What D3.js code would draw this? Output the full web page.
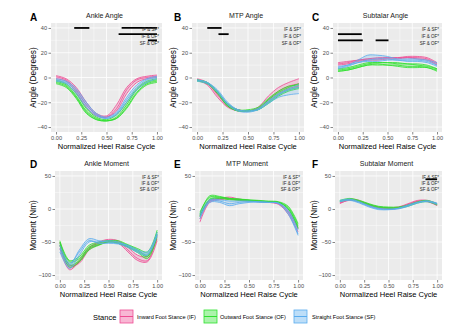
<!DOCTYPE html>
<html>
<head>
<meta charset="utf-8">
<script src="https://cdn.jsdelivr.net/npm/d3@7"></script>
<style>
html,body{margin:0;padding:0;background:#fff;}
svg{display:block;font-family:"Liberation Sans",Arial,sans-serif;}
</style>
</head>
<body>
<svg id="chart" width="474" height="330"></svg>
<script>
// ---------------- DATA ----------------
const xPoints = [0, 0.1, 0.2, 0.3, 0.4, 0.5, 0.6, 0.7, 0.8, 0.9, 1.0];
const stanceKeys = ["IF", "OF", "SF"];
const stanceNames = ["Inward Foot Stance (IF)", "Outward Foot Stance (OF)", "Straight Foot Stance (SF)"];
const panelLetters = ["A", "B", "C", "D", "E", "F"];
const panelTitles = ["Ankle Angle", "MTP Angle", "Subtalar Angle", "Ankle Moment", "MTP Moment", "Subtalar Moment"];
const yTitles = ["Angle (Degrees)", "Angle (Degrees)", "Angle (Degrees)", "Moment (Nm)", "Moment (Nm)", "Moment (Nm)"];
const xTickValues = [0, 0.25, 0.5, 0.75, 1];
const xTickLabels = ["0.00", "0.25", "0.50", "0.75", "1.00"];
const angleTicks = [-40, -20, 0, 20, 40];
const momentTicks = [-100, -50, 0, 50];
const sigLabels = ["IF & SF*", "IF & OF*", "SF & OF*"];

// Ankle angle
const ankleAngleIF = [
  [0.5, -2, -10, -22, -30, -32, -25, -10, -2, 0, 1],
  [1.5, -1, -8, -20, -29, -31, -22, -8, -1, 1, 2],
  [-1, -3, -12, -24, -31, -32, -27, -13, -4, -1, 0]
];
const ankleAngleOF = [
  [-3, -6, -15, -27, -33, -35, -32, -22, -10, -4, -2],
  [-4, -7, -16, -28, -34, -35, -33, -24, -12, -5, -3],
  [-2, -5, -13, -25, -32, -34, -30, -20, -9, -3, -1],
  [-5, -8, -17, -29, -34, -35, -33, -25, -13, -6, -4]
];
const ankleAngleSF = [
  [-2, -4, -11, -22, -30, -33, -29, -18, -8, -2, 0],
  [-1, -3, -9, -20, -29, -32, -28, -16, -6, -1, 1],
  [-3, -5, -13, -24, -31, -33, -30, -20, -10, -4, -1]
];
// MTP angle
const mtpAngleIF = [
  [-2, -5, -14, -23, -26, -27, -24, -15, -8, -4, -1],
  [-2, -6, -16, -24, -27, -27, -25, -18, -11, -7, -5],
  [-1, -4, -13, -22, -26, -27, -25, -19, -13, -9, -7]
];
const mtpAngleOF = [
  [-2, -4, -11, -22, -26, -27, -25, -18, -12, -8, -5],
  [-3, -5, -13, -23, -27, -27, -26, -20, -14, -10, -8],
  [-2, -4, -12, -21, -26, -26, -24, -17, -11, -7, -6],
  [-2, -5, -12, -23, -27, -27, -26, -21, -15, -11, -9]
];
const mtpAngleSF = [
  [-2, -4, -11, -21, -26, -27, -26, -20, -14, -10, -8],
  [-3, -5, -12, -22, -27, -28, -26, -21, -16, -14, -13],
  [-2, -4, -10, -20, -26, -27, -25, -19, -13, -9, -6]
];
// Subtalar angle
const subtalarAngleIF = [
  [11, 12, 14, 15, 15, 16, 16, 17, 17, 16, 12],
  [10, 11, 13, 14, 14, 15, 15, 16, 16, 15, 11],
  [12, 13, 14, 15, 16, 16, 16, 16, 15, 14, 10]
];
const subtalarAngleOF = [
  [6, 7, 9, 11, 12, 12, 12, 11, 11, 10, 7],
  [5, 6, 8, 10, 11, 10, 10, 9, 9, 8, 6],
  [7, 8, 10, 12, 12, 12, 11, 11, 10, 9, 7],
  [5, 6, 8, 10, 10, 10, 9, 8, 8, 8, 5]
];
const subtalarAngleSF = [
  [8, 10, 14, 18, 18, 17, 15, 15, 15, 14, 12],
  [7, 9, 12, 14, 15, 15, 14, 14, 14, 13, 10],
  [9, 10, 12, 13, 13, 14, 14, 13, 13, 12, 9]
];
// Ankle moment
const ankleMomentIF = [
  [-55, -88, -80, -60, -52, -48, -50, -62, -75, -78, -40],
  [-60, -92, -78, -58, -50, -46, -48, -58, -70, -72, -45],
  [-50, -85, -82, -62, -54, -50, -52, -65, -78, -80, -48]
];
const ankleMomentOF = [
  [-50, -80, -75, -58, -52, -48, -50, -55, -62, -70, -35],
  [-48, -78, -72, -55, -50, -48, -48, -54, -60, -65, -32],
  [-52, -85, -78, -60, -54, -50, -52, -57, -64, -72, -38],
  [-55, -88, -80, -62, -55, -50, -52, -58, -66, -75, -42]
];
const ankleMomentSF = [
  [-60, -85, -62, -45, -48, -50, -52, -55, -62, -65, -35],
  [-65, -90, -70, -50, -50, -48, -50, -56, -64, -68, -40],
  [-55, -82, -65, -48, -52, -52, -53, -58, -66, -70, -38]
];
// MTP moment
const mtpMomentIF = [
  [-15, 12, 15, 16, 14, 13, 12, 10, 8, -5, -30],
  [-20, 10, 14, 15, 13, 12, 11, 10, 7, -8, -35],
  [-10, 13, 16, 18, 15, 13, 12, 11, 9, -3, -28]
];
const mtpMomentOF = [
  [-5, 18, 18, 16, 15, 13, 12, 11, 10, 2, -25],
  [-10, 15, 17, 15, 14, 13, 12, 11, 10, 0, -28],
  [-8, 20, 19, 16, 15, 14, 13, 12, 11, 4, -22],
  [-12, 14, 16, 14, 13, 12, 11, 10, 10, 0, -30]
];
const mtpMomentSF = [
  [-12, 10, 10, 5, 8, 10, 11, 10, 9, -5, -38],
  [-15, 12, 12, 8, 10, 11, 10, 10, 8, -8, -40],
  [-8, 14, 14, 12, 12, 12, 11, 10, 9, -2, -32]
];
// Subtalar moment
const subtalarMomentIF = [
  [8, 14, 12, 6, 2, 1, 2, 7, 12, 12, 6],
  [10, 15, 13, 7, 3, 2, 3, 8, 13, 13, 8],
  [9, 13, 11, 5, 1, 0, 1, 6, 11, 11, 5]
];
const subtalarMomentOF = [
  [12, 15, 12, 7, 3, 2, 2, 5, 10, 12, 7],
  [13, 16, 13, 8, 4, 3, 3, 6, 11, 13, 8],
  [11, 14, 11, 6, 2, 1, 1, 4, 9, 11, 6]
];
const subtalarMomentSF = [
  [12, 14, 10, 4, 0, -1, 1, 5, 10, 12, 8],
  [11, 13, 9, 3, -1, -1, 0, 4, 9, 11, 7],
  [13, 15, 11, 5, 1, 0, 1, 6, 10, 12, 9]
];

// significance bars: [xStart, xEnd, y]
const sigAnkleAngle = [[0.18, 0.33, 40], [0.65, 1.0, 40], [0.62, 1.0, 35], [0.91, 1.0, 30]];
const sigMtpAngle = [[0.10, 0.24, 40], [0.21, 0.31, 35]];
const sigSubtalarAngle = [[0.0, 0.24, 35], [0.0, 0.25, 30], [0.38, 0.51, 30]];
const sigAnkleMoment = [];
const sigMtpMoment = [];
const sigSubtalarMoment = [[0.88, 1.0, 45]];
const sigLabelYAngle = [38.5, 33, 27.5];
const sigLabelYMoment = [48, 39, 30];

// ---------------- STYLE / LAYOUT ----------------
const stanceColors = {IF: "#EE4C93", OF: "#2EE02E", SF: "#5AACEE"};
const rows = [
  {yDomain: [-44, 44], yRange: [132, 23], ticks: angleTicks, minor: [-30, -10, 10, 30], labY: sigLabelYAngle, titleY: 18, letterY: 21, xTitleY: 149},
  {yDomain: [-107.5, 57.5], yRange: [280, 171], ticks: momentTicks, minor: [-75, -25, 25], labY: sigLabelYMoment, titleY: 166, letterY: 168, xTitleY: 297}
];
const panelsX = [[51, 162], [192, 304], [333, 442], [55, 162], [195, 303], [335, 442]];
const yTitleX = [33, 173, 314];
const letterX = [30, 174, 312];

const panelData = [
  [ankleAngleIF, ankleAngleOF, ankleAngleSF],
  [mtpAngleIF, mtpAngleOF, mtpAngleSF],
  [subtalarAngleIF, subtalarAngleOF, subtalarAngleSF],
  [ankleMomentIF, ankleMomentOF, ankleMomentSF],
  [mtpMomentIF, mtpMomentOF, mtpMomentSF],
  [subtalarMomentIF, subtalarMomentOF, subtalarMomentSF]
];
const panelSig = [sigAnkleAngle, sigMtpAngle, sigSubtalarAngle, sigAnkleMoment, sigMtpMoment, sigSubtalarMoment];

const svg = d3.select("#chart");
svg.append("rect").attr("width", 474).attr("height", 330).attr("fill", "#fff");

panelData.forEach((groups, i) => {
  const row = rows[Math.floor(i / 3)];
  const col = i % 3;
  const [left, right] = panelsX[i];
  const x = d3.scaleLinear().domain([-0.05, 1.05]).range([left, right]);
  const y = d3.scaleLinear().domain(row.yDomain).range(row.yRange);
  const g = svg.append("g");

  g.append("rect").attr("x", left).attr("y", row.yRange[1])
    .attr("width", right - left).attr("height", row.yRange[0] - row.yRange[1])
    .attr("fill", "#EBEBEB");
  const xMinor = [0.125, 0.375, 0.625, 0.875];
  xMinor.forEach(v => g.append("line").attr("x1", x(v)).attr("x2", x(v))
    .attr("y1", row.yRange[1]).attr("y2", row.yRange[0]).attr("stroke", "#fff").attr("stroke-width", 0.4));
  row.minor.forEach(v => g.append("line").attr("y1", y(v)).attr("y2", y(v))
    .attr("x1", left).attr("x2", right).attr("stroke", "#fff").attr("stroke-width", 0.4));
  xTickValues.forEach(v => g.append("line").attr("x1", x(v)).attr("x2", x(v))
    .attr("y1", row.yRange[1]).attr("y2", row.yRange[0]).attr("stroke", "#fff").attr("stroke-width", 0.8));
  row.ticks.forEach(v => g.append("line").attr("y1", y(v)).attr("y2", y(v))
    .attr("x1", left).attr("x2", right).attr("stroke", "#fff").attr("stroke-width", 0.8));

  const xAxis = d3.axisBottom(x).tickValues(xTickValues).tickFormat((d, k) => xTickLabels[k]).tickSize(2.5).tickPadding(1.5);
  const xg = g.append("g").attr("transform", `translate(0,${row.yRange[0]})`).call(xAxis);
  const yAxis = d3.axisLeft(y).tickValues(row.ticks).tickFormat(d3.format("d")).tickSize(2.5).tickPadding(1.5);
  const yg = g.append("g").attr("transform", `translate(${left},0)`).call(yAxis);
  [xg, yg].forEach(a => {
    a.select(".domain").remove();
    a.selectAll(".tick line").attr("stroke", "#333").attr("stroke-width", 0.6);
    a.selectAll(".tick text").attr("fill", "#4D4D4D").style("font-size", "5.6px").style("font-family", "Liberation Sans, Arial, sans-serif");
  });

  const line = d3.line().x((d, k) => x(xPoints[k])).y(d => y(d)).curve(d3.curveCatmullRom.alpha(0.5));
  const area = d3.area().x((d, k) => x(xPoints[k])).y0(d => y(d[0])).y1(d => y(d[1])).curve(d3.curveCatmullRom.alpha(0.5));
  groups.forEach((lines, s) => {
    const c = stanceColors[stanceKeys[s]];
    const band = xPoints.map((_, k) => d3.extent(lines, l => l[k]));
    g.append("path").datum(band).attr("d", area).attr("fill", c).attr("fill-opacity", 0.22);
    lines.forEach(l => {
      g.append("path").datum(l).attr("d", line).attr("fill", "none")
        .attr("stroke", c).attr("stroke-width", 0.9).attr("stroke-opacity", 0.9);
    });
  });

  panelSig[i].forEach(b => {
    g.append("line").attr("x1", x(b[0])).attr("x2", x(b[1])).attr("y1", y(b[2])).attr("y2", y(b[2]))
      .attr("stroke", "#000").attr("stroke-width", 1.8);
  });
  sigLabels.forEach((t, k) => {
    g.append("text").attr("x", x(1.02)).attr("y", y(row.labY[k]) + 1.5)
      .attr("text-anchor", "end").style("font-size", "4.5px").attr("fill", "#222").text(t);
  });

  g.append("text").attr("x", (left + right) / 2 - 2).attr("y", row.titleY).attr("text-anchor", "middle")
    .style("font-size", "7px").attr("fill", "#222").text(panelTitles[i]);
  g.append("text").attr("x", letterX[col]).attr("y", row.letterY).style("font-size", "10px")
    .style("font-weight", "bold").attr("fill", "#000").text(panelLetters[i]);
  g.append("text").attr("x", (x(0) + x(1)) / 2).attr("y", row.xTitleY).attr("text-anchor", "middle")
    .style("font-size", "7.5px").attr("fill", "#000").text("Normalized Heel Raise Cycle");
  const cy = (row.yRange[0] + row.yRange[1]) / 2;
  g.append("text").attr("transform", `translate(${yTitleX[col] + 3},${cy}) rotate(-90)`).attr("text-anchor", "middle")
    .style("font-size", "8.3px").attr("fill", "#000").text(yTitles[i]);
});

// legend
const legend = svg.append("g");
legend.append("text").attr("x", 93).attr("y", 320).style("font-size", "7.5px").attr("fill", "#000").text("Stance");
const keyX = [120, 204, 294];
const labelX = [137, 220, 312];
stanceKeys.forEach((k, s) => {
  const c = stanceColors[k];
  legend.append("rect").attr("x", keyX[s]).attr("y", 310).attr("width", 13).attr("height", 13)
    .attr("fill", c).attr("fill-opacity", 0.4).attr("stroke", c).attr("stroke-width", 0.8);
  legend.append("line").attr("x1", keyX[s]).attr("x2", keyX[s] + 13).attr("y1", 316.5).attr("y2", 316.5)
    .attr("stroke", c).attr("stroke-width", 1);
  legend.append("text").attr("x", labelX[s]).attr("y", 318.5).style("font-size", "5.6px").attr("fill", "#000").text(stanceNames[s]);
});
</script>
</body>
</html>
